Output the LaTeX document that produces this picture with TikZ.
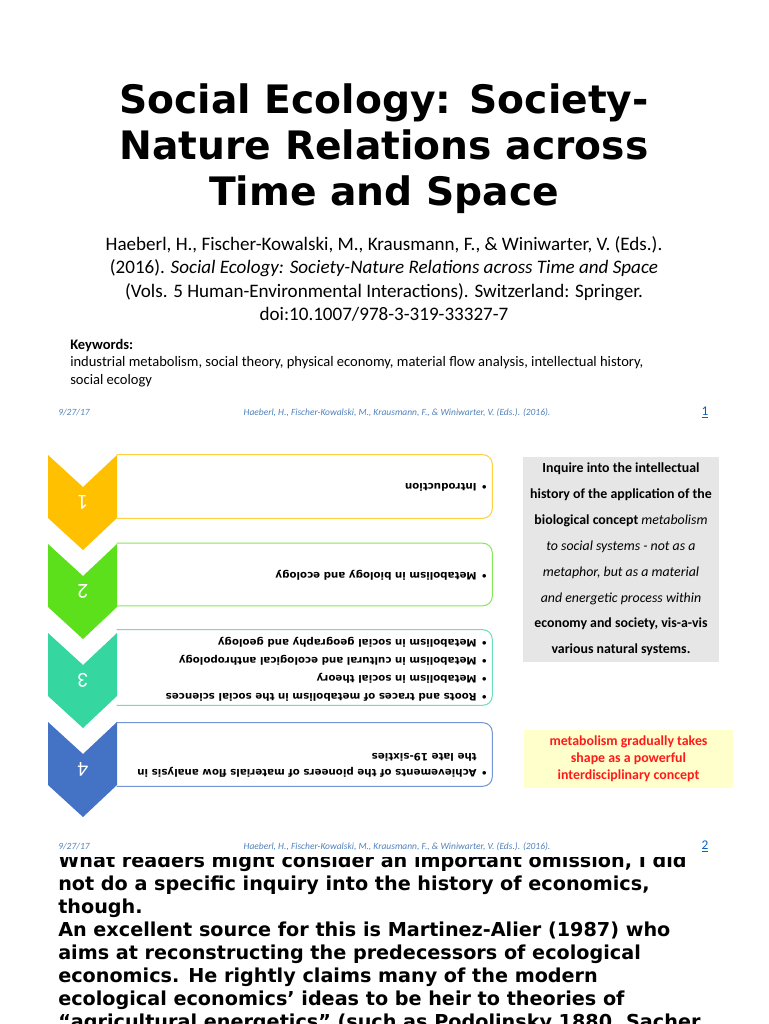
\documentclass[tikz,border=0pt]{standalone}
\usepackage{fontspec}
\setmainfont{Carlito}
\newfontfamily\dejavu{DejaVu Sans}
\usetikzlibrary{positioning}

\definecolor{chevyellow}{HTML}{FFC000}
\definecolor{chevgreen}{HTML}{5CE01C}
\definecolor{chevteal}{HTML}{36D6A0}
\definecolor{chevblue}{HTML}{4472C4}
\definecolor{footblue}{HTML}{4F81BD}
\definecolor{linkblue}{HTML}{0563C1}
\definecolor{notegray}{HTML}{E7E6E6}
\definecolor{noteyellow}{HTML}{FFFFCC}
\definecolor{notered}{HTML}{FF1A1A}

\newcommand{\bul}{\makebox[8.25pt][l]{\textbullet}}
\newcommand{\hang}{\hspace*{8.25pt}}

\begin{document}
\begin{tikzpicture}[
    x=0.75pt, y=-0.75pt,
    frame/.style={draw=#1, line width=0.75pt, rounded corners=7pt},
    slot/.style={minimum width=281.25pt, inner sep=0pt},
    num/.style={text=white, font=\fontsize{16}{16}\selectfont, rotate=180, inner sep=0pt},
    item/.style={font=\dejavu\bfseries\fontsize{7.7}{13.5}\selectfont, rotate=180, align=left, inner sep=0pt, anchor=north west},
    foot/.style={font=\itshape\fontsize{7.1}{8.5}\selectfont, text=footblue, inner sep=0pt, anchor=base},
    pageno/.style={font=\fontsize{10}{12}\selectfont, text=linkblue, inner sep=0pt, anchor=base}
]
\useasboundingbox (0,0) rectangle (768,1024);
\fill[white] (0,0) rectangle (768,1024);

% title block
\node[font=\dejavu\bfseries\fontsize{29.4}{34.5}\selectfont, align=center, inner sep=0pt] (title) at (384,148.5)
  {Social Ecology: Society-\\Nature Relations across\\Time and Space};
\node[font=\fontsize{14.3}{17.6}\selectfont, align=center, inner sep=0pt] (cite) at (384,279)
  {Haeberl, H., Fischer-Kowalski, M., Krausmann, F., \& Winiwarter, V. (Eds.).\\
   (2016). \textit{Social Ecology: Society-Nature Relations across Time and Space}\\
   (Vols. 5 Human-Environmental Interactions). Switzerland: Springer.\\
   doi:10.1007/978-3-319-33327-7};
\node[font=\fontsize{10.9}{13.1}\selectfont, align=left, inner sep=0pt, anchor=north west] (keys) at (70,339)
  {\textbf{Keywords:}\\
   industrial metabolism, social theory, physical economy, material flow analysis, intellectual history,\\
   social ecology};

% footer of slide 1
\node[foot, anchor=base west] (date1) at (58,415) {9/27/17};
\node[foot] (foot1) at (397,415) {Haeberl, H., Fischer-Kowalski, M., Krausmann, F., \& Winiwarter, V. (Eds.). (2016).};
\node[pageno] (page1) at (705,415) {\underline{1}};

% list frames
\node[slot, minimum height=47.25pt] (b1) at (304.5,486.5) {};
\node[slot, minimum height=46.5pt] (b2) at (304.5,574.5) {};
\node[slot, minimum height=56.25pt] (b3) at (304.5,667.5) {};
\node[slot, minimum height=47.25pt] (b4) at (304.5,754.5) {};
\foreach \b/\col in {b1/chevyellow, b2/chevgreen, b3/chevteal, b4/chevblue}
  \draw[frame=\col!75] (\b.north west) -- (\b.north east) -- (\b.south east) -- (\b.south west);

% chevrons
\foreach \ytop/\col/\n in {455/chevyellow/1, 544/chevgreen/2, 633/chevteal/3, 722/chevblue/4}{
  \fill[\col] (48,\ytop) -- (83,\ytop+32) -- (117,\ytop) -- (117,\ytop+63)
    -- (83,\ytop+95) -- (48,\ytop+63) -- cycle;
  \node[num] (n\n) at (83,\ytop+47) {\n};
}

% upside-down list texts
\node[item] (t1) at (488,492) {\bul Introduction};
\node[item] (t2) at (488,581) {\bul Metabolism in biology and ecology};
\node[item] (t3) at (488,702) {\bul Roots and traces of metabolism in the social sciences\\
  \bul Metabolism in social theory\\
  \bul Metabolism in cultural and ecological anthropology\\
  \bul Metabolism in social geography and geology};
\node[item, font=\dejavu\bfseries\fontsize{7.7}{12.5}\selectfont] (t4) at (488,778)
  {\bul Achievements of the pioneers of materials flow analysis in\\
   \hang the late 19-sixties};

% notes on the right
\node[fill=notegray, minimum width=147pt, minimum height=153.75pt, inner sep=0pt, align=center,
      font=\bfseries\fontsize{10.4}{19.4}\selectfont] (aim) at (621,559.5)
  {Inquire into the intellectual\\
   history of the application of the\\
   biological concept {\mdseries\itshape metabolism}\\
   {\mdseries\itshape to social systems - not as a}\\
   {\mdseries\itshape metaphor, but as a material}\\
   {\mdseries\itshape and energetic process within}\\
   economy and society, vis-a-vis\\
   various natural systems.};
\node[fill=noteyellow, minimum width=156.75pt, minimum height=43.5pt, inner sep=0pt, align=center,
      text=notered, font=\bfseries\fontsize{10.4}{12.75}\selectfont] (concept) at (628.5,759)
  {metabolism gradually takes\\shape as a powerful\\interdisciplinary concept};

% footer of slide 2
\node[foot, anchor=base west] (date2) at (58,849) {9/27/17};
\node[foot] (foot2) at (397,849) {Haeberl, H., Fischer-Kowalski, M., Krausmann, F., \& Winiwarter, V. (Eds.). (2016).};
\node[pageno] (page2) at (705,849) {\underline{2}};

% cut-off text of the next page
\begin{scope}
\clip (0,857) rectangle (768,1024);
\node[font=\dejavu\bfseries\fontsize{14.4}{17.3}\selectfont, align=left, inner sep=0pt, anchor=north west] (excerpt) at (58,852.5)
  {What readers might consider an important omission, I did\\
   not do a specific inquiry into the history of economics,\\
   though.\\
   An excellent source for this is Martinez-Alier (1987) who\\
   aims at reconstructing the predecessors of ecological\\
   economics. He rightly claims many of the modern\\
   ecological economics’ ideas to be heir to theories of\\
   “agricultural energetics” (such as Podolinsky 1880, Sacher};
\end{scope}
\end{tikzpicture}
\end{document}
